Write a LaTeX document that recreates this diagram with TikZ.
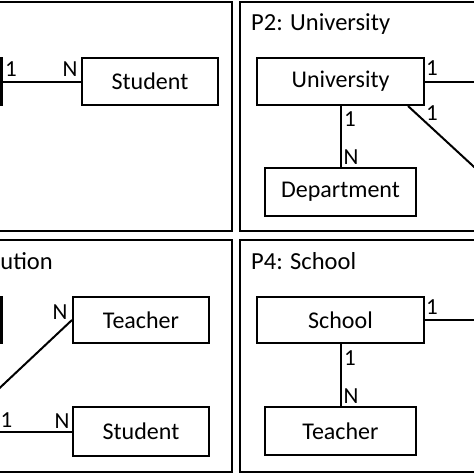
\documentclass[tikz,border=0pt]{standalone}
\usepackage{fontspec}
\setmainfont{Carlito}
\tikzset{
  entity/.style={draw, line width=2pt, inner sep=0pt, minimum height=47pt, font=\fontsize{24}{28}\selectfont},
  card/.style={inner sep=0pt, font=\fontsize{23}{26}\selectfont},
  panel/.style={draw, line width=2pt},
  link/.style={line width=2pt},
  relbar/.style={line width=3.5pt},
  ptitle/.style={inner sep=0pt, font=\fontsize{24.5}{28}\selectfont}
}
\begin{document}
\begin{tikzpicture}[x = 1pt, y = -1pt]
  \useasboundingbox (0,0) rectangle (474,474);
  \clip (0,0) rectangle (474,474);
  % panels
  \draw[panel] (-20,1.5) rectangle (232,231);
  \draw[panel] (239.7,1.5) rectangle (500,231);
  \draw[panel] (-20,240) rectangle (232,471.5);
  \draw[panel] (239.7,240) rectangle (500,471.5);
  \node[ptitle, anchor=base west] (t2) at (251,30) {P2: University};
  \node[ptitle, anchor=base east] (t3) at (53,269) {ution};
  \node[ptitle, anchor=base west] (t4) at (251,269) {P4: School};

  % P1
  \draw[relbar] (1.5,57) -- (1.5,106); %cut relationship
  \coordinate (r1) at (3,81.5);
  \node[entity, minimum width=136pt] (stu1) at (150,81.5) {Student};
  \draw[link] (r1) -- (stu1.west);
  \node[card] (c1a) at (11,69) {1};
  \node[card] (c1b) at (70,69) {N};

  % P2
  \node[entity, minimum width=167pt] (uni) at (340.5,81.5) {University};
  \node[entity, minimum width=151pt, minimum height=48pt] (dep) at (340.5,192) {Department};
  \coordinate (r2a) at (480,81.5);
  \coordinate (r2b) at (485,177);
  \draw[link] (uni.east) -- (r2a);
  \draw[link] ([xshift=-17pt]uni.south east) -- (r2b);
  \draw[link] (uni.south) -- (dep.north);
  \node[card] (c2a) at (432,68) {1};
  \node[card] (c2b) at (432,113) {1};
  \node[card] (c2c) at (350,119) {1};
  \node[card] (c2d) at (351,157) {N};

  % P3
  \draw[relbar] (1.5,296) -- (1.5,344);
  \node[entity, minimum width=136pt, minimum height=46pt] (tea3) at (141,320) {Teacher};
  \node[entity, minimum width=136pt, minimum height=49pt] (stu3) at (141,431.5) {Student};
  \coordinate (r3a) at (-11,398);
  \coordinate (r3b) at (-5,431.5);
  \draw[link] (tea3.west) -- (r3a);
  \draw[link] (r3b) -- (stu3.west);
  \node[card] (c3a) at (60,312) {N};
  \node[card, anchor=west] (c3b) at (0.5,420) {1};
  \node[card] (c3c) at (62,421) {N};

  % P4
  \node[entity, minimum width=167pt, minimum height=46pt] (sch) at (340.5,320) {School};
  \node[entity, minimum width=151pt, minimum height=48pt] (tea4) at (340.5,431) {Teacher};
  \coordinate (r4) at (480,320);
  \draw[link] (sch.east) -- (r4);
  \draw[link] (sch.south) -- (tea4.north);
  \node[card] (c4a) at (432,307) {1};
  \node[card] (c4b) at (350,358) {1};
  \node[card] (c4c) at (351,396) {N};
\end{tikzpicture}
\end{document}
